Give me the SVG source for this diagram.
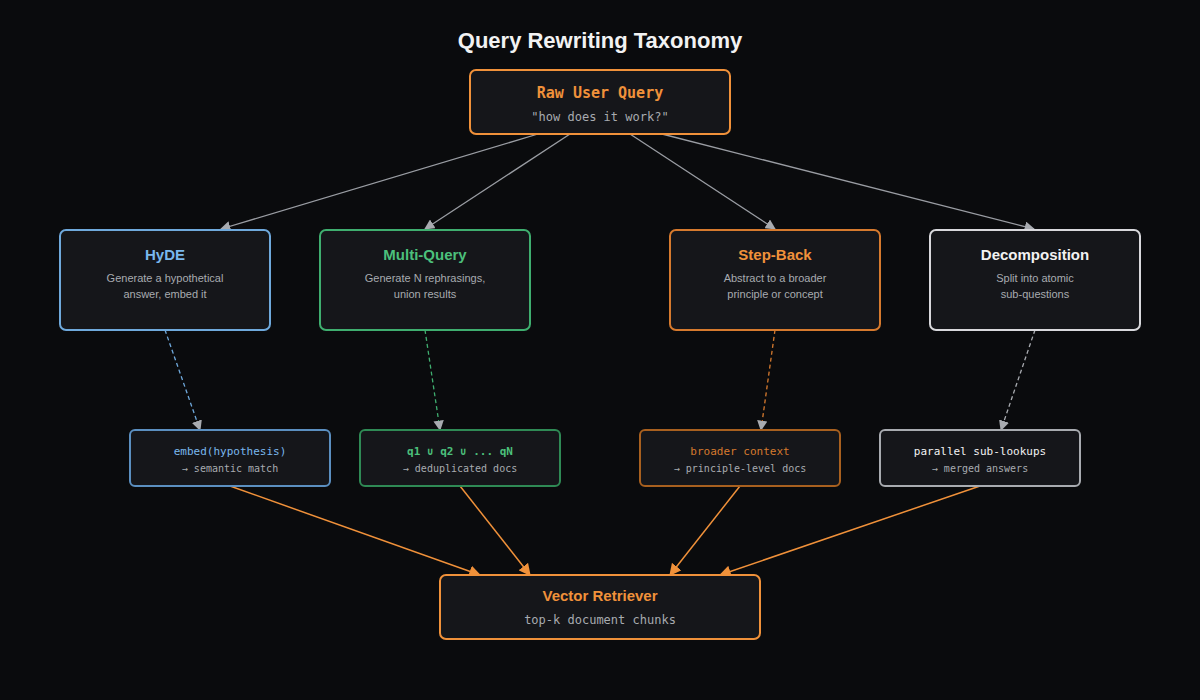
<svg xmlns="http://www.w3.org/2000/svg" width="1200" height="700" viewBox="0 0 1200 700">
<style>
.box{fill:#15161a;stroke-width:2}
.t{font-family:"Liberation Sans",Arial,sans-serif;font-weight:bold;font-size:15px;text-anchor:middle}
.d{font-family:"Liberation Sans",Arial,sans-serif;font-size:11px;fill:#a8abb0;text-anchor:middle}
.m{font-family:"DejaVu Sans Mono","Liberation Mono",monospace;text-anchor:middle}
.g{stroke:#9a9da3;stroke-width:1.3;fill:none}
.o{stroke:#f0913a;stroke-width:1.5;fill:none}
</style>
<defs>
<marker id="ag" viewBox="0 0 10 10" refX="9" refY="5" markerWidth="8" markerHeight="8" orient="auto-start-reverse"><path d="M0,0L10,5L0,10z" fill="#a8abb0"/></marker>
<marker id="ao" viewBox="0 0 10 10" refX="9" refY="5" markerWidth="8" markerHeight="8" orient="auto-start-reverse"><path d="M0,0L10,5L0,10z" fill="#f0913a"/></marker>
</defs>
<rect width="1200" height="700" fill="#0a0b0d"/>
<text x="600" y="48" font-family="Liberation Sans,Arial,sans-serif" font-weight="bold" font-size="22" fill="#f2f2f2" text-anchor="middle">Query Rewriting Taxonomy</text>
<g id="connectors">
<line class="g" x1="538" y1="134" x2="221" y2="229" marker-end="url(#ag)"/>
<line class="g" x1="570" y1="134" x2="425" y2="229" marker-end="url(#ag)"/>
<line class="g" x1="630" y1="134" x2="775" y2="229" marker-end="url(#ag)"/>
<line class="g" x1="662" y1="134" x2="1034" y2="229" marker-end="url(#ag)"/>
<line x1="165" y1="330" x2="200" y2="430" stroke="#6fa9dc" stroke-width="1.3" stroke-dasharray="4,3" marker-end="url(#ag)"/>
<line x1="425" y1="330" x2="440" y2="430" stroke="#3fae6f" stroke-width="1.3" stroke-dasharray="4,3" marker-end="url(#ag)"/>
<line x1="775" y1="330" x2="761" y2="430" stroke="#d67a2e" stroke-width="1.3" stroke-dasharray="4,3" marker-end="url(#ag)"/>
<line x1="1035" y1="330" x2="1001" y2="430" stroke="#a8abb0" stroke-width="1.3" stroke-dasharray="4,3" marker-end="url(#ag)"/>
<line class="o" x1="230" y1="486" x2="480" y2="575" marker-end="url(#ao)"/>
<line class="o" x1="460" y1="486" x2="530" y2="575" marker-end="url(#ao)"/>
<line class="o" x1="740" y1="486" x2="670" y2="575" marker-end="url(#ao)"/>
<line class="o" x1="980" y1="486" x2="720" y2="575" marker-end="url(#ao)"/>
</g>
<g id="raw"><rect class="box" x="470" y="70" width="260" height="64" rx="6" stroke="#f0913a"/>
<text class="m" x="600" y="98" font-size="15" font-weight="bold" fill="#f0913a">Raw User Query</text>
<text class="m" x="600" y="121" font-size="12" fill="#a8abb0">"how does it work?"</text></g>
<g id="hyde"><rect class="box" x="60" y="230" width="210" height="100" rx="6" stroke="#6fa9dc"/>
<text class="t" x="165" y="260" fill="#7ab8ee">HyDE</text>
<text class="d" x="165" y="282">Generate a hypothetical</text><text class="d" x="165" y="298">answer, embed it</text></g>
<g id="multi"><rect class="box" x="320" y="230" width="210" height="100" rx="6" stroke="#3fae6f"/>
<text class="t" x="425" y="260" fill="#4cc07c">Multi-Query</text>
<text class="d" x="425" y="282">Generate N rephrasings,</text><text class="d" x="425" y="298">union results</text></g>
<g id="step"><rect class="box" x="670" y="230" width="210" height="100" rx="6" stroke="#d67a2e"/>
<text class="t" x="775" y="260" fill="#f0913a">Step-Back</text>
<text class="d" x="775" y="282">Abstract to a broader</text><text class="d" x="775" y="298">principle or concept</text></g>
<g id="decomp"><rect class="box" x="930" y="230" width="210" height="100" rx="6" stroke="#d8d8dc"/>
<text class="t" x="1035" y="260" fill="#f2f2f2">Decomposition</text>
<text class="d" x="1035" y="282">Split into atomic</text><text class="d" x="1035" y="298">sub-questions</text></g>
<g id="r1"><rect class="box" x="130" y="430" width="200" height="56" rx="5" stroke="#5b8fc0" stroke-width="1.3"/>
<text class="m" x="230" y="455" font-size="11" fill="#7ab8ee">embed(hypothesis)</text>
<text class="m" x="230" y="472" font-size="10" fill="#a8abb0">→ semantic match</text></g>
<g id="r2"><rect class="box" x="360" y="430" width="200" height="56" rx="5" stroke="#2f8a55" stroke-width="1.3"/>
<text class="m" x="460" y="455" font-size="11" font-weight="bold" fill="#4cc07c">q1 ∪ q2 ∪ ... qN</text>
<text class="m" x="460" y="472" font-size="10" fill="#a8abb0">→ deduplicated docs</text></g>
<g id="r3"><rect class="box" x="640" y="430" width="200" height="56" rx="5" stroke="#a8601f" stroke-width="1.3"/>
<text class="m" x="740" y="455" font-size="11" fill="#d67a2e">broader context</text>
<text class="m" x="740" y="472" font-size="10" fill="#a8abb0">→ principle-level docs</text></g>
<g id="r4"><rect class="box" x="880" y="430" width="200" height="56" rx="5" stroke="#a8abb0" stroke-width="1.3"/>
<text class="m" x="980" y="455" font-size="11" fill="#f2f2f2">parallel sub-lookups</text>
<text class="m" x="980" y="472" font-size="10" fill="#a8abb0">→ merged answers</text></g>
<g id="vr"><rect class="box" x="440" y="575" width="320" height="64" rx="6" stroke="#f0913a"/>
<text class="t" x="600" y="601" fill="#f0913a">Vector Retriever</text>
<text class="m" x="600" y="624" font-size="12" fill="#a8abb0">top-k document chunks</text></g>
</svg>
